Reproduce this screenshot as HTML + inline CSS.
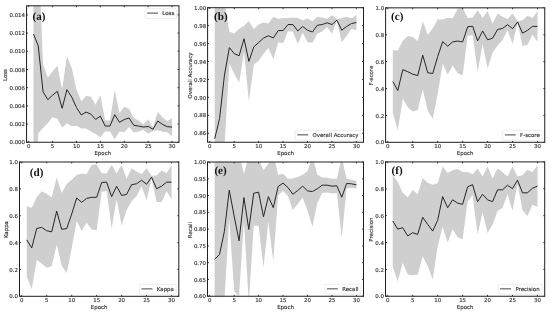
<!DOCTYPE html>
<html><head><meta charset="utf-8"><title>Training curves</title>
<style>html,body{margin:0;padding:0;background:#fff;}svg{display:block;filter:blur(0.35px);}text{text-rendering:geometricPrecision;}</style>
</head><body>
<svg width="550" height="314" viewBox="0 0 550 314">
<rect width="550" height="314" fill="#fff"/>
<clipPath id="clipa"><rect x="26.55" y="5.8" width="152.45" height="136.45"/></clipPath>
<g clip-path="url(#clipa)">
<polygon fill="#cfcfcf" points="33.48,-221.62 38.26,-52.42 43.04,64.02 47.82,77.66 52.6,71.3 57.37,65.84 62.15,89.22 66.93,56.01 71.71,67.93 76.49,89.4 81.27,101.31 86.05,95.68 90.83,96.86 95.61,104.86 100.39,95.31 105.16,120.6 109.94,120.6 114.72,90.22 119.5,113.23 124.28,106.77 129.06,108.87 133.84,118.05 138.62,120.6 143.4,124.33 148.18,119.14 152.95,127.42 157.73,111.96 162.51,117.14 167.29,121.24 172.07,117.96 172.07,136.16 167.29,132.15 162.51,131.7 157.73,130.15 152.95,131.06 148.18,133.7 143.4,129.79 138.62,131.52 133.84,132.61 129.06,127.06 124.28,132.24 119.5,131.42 114.72,139.34 109.94,131.52 105.16,131.52 100.39,137.16 95.61,133.97 90.83,131.42 86.05,128.42 81.27,128.6 76.49,125.79 71.71,126.15 66.93,123.33 62.15,127.42 57.37,118.69 52.6,117.23 47.82,122.97 43.04,128.06 38.26,133.15 33.48,278.7"/>
<polyline fill="none" stroke="#262626" stroke-width="1.0" stroke-linejoin="miter" points="33.48,34 38.26,45.83 43.04,91.76 47.82,99.68 52.6,95.13 57.37,91.31 62.15,108.32 66.93,89.67 71.71,97.04 76.49,107.59 81.27,114.96 86.05,112.05 90.83,114.14 95.61,119.42 100.39,116.23 105.16,126.06 109.94,126.06 114.72,114.78 119.5,122.33 124.28,119.51 129.06,117.96 133.84,125.33 138.62,126.06 143.4,127.06 148.18,126.42 152.95,129.24 157.73,121.05 162.51,124.42 167.29,126.69 172.07,127.06"/>
</g>
<path d="M28.7 142.25v-1.4M28.7 5.8v1.4M52.6 142.25v-1.4M52.6 5.8v1.4M76.49 142.25v-1.4M76.49 5.8v1.4M100.39 142.25v-1.4M100.39 5.8v1.4M124.28 142.25v-1.4M124.28 5.8v1.4M148.18 142.25v-1.4M148.18 5.8v1.4M172.07 142.25v-1.4M172.07 5.8v1.4M26.55 142.25h1.4M179 142.25h-1.4M26.55 124.06h1.4M179 124.06h-1.4M26.55 105.86h1.4M179 105.86h-1.4M26.55 87.67h1.4M179 87.67h-1.4M26.55 69.48h1.4M179 69.48h-1.4M26.55 51.28h1.4M179 51.28h-1.4M26.55 33.09h1.4M179 33.09h-1.4M26.55 14.9h1.4M179 14.9h-1.4" stroke="#1e1e1e" stroke-width="0.9" fill="none"/>
<rect x="26.55" y="5.8" width="152.45" height="136.45" fill="none" stroke="#1e1e1e" stroke-width="1.0"/>
<g font-family="'DejaVu Sans', 'Liberation Sans', sans-serif" font-size="5.45" fill="#383838" stroke="#383838" stroke-width="0.16">
<text x="28.7" y="148.05" text-anchor="middle">0</text>
<text x="52.6" y="148.05" text-anchor="middle">5</text>
<text x="76.49" y="148.05" text-anchor="middle">10</text>
<text x="100.39" y="148.05" text-anchor="middle">15</text>
<text x="124.28" y="148.05" text-anchor="middle">20</text>
<text x="148.18" y="148.05" text-anchor="middle">25</text>
<text x="172.07" y="148.05" text-anchor="middle">30</text>
<text x="25.05" y="144.4" text-anchor="end">0.000</text>
<text x="25.05" y="126.21" text-anchor="end">0.002</text>
<text x="25.05" y="108.01" text-anchor="end">0.004</text>
<text x="25.05" y="89.82" text-anchor="end">0.006</text>
<text x="25.05" y="71.63" text-anchor="end">0.008</text>
<text x="25.05" y="53.43" text-anchor="end">0.010</text>
<text x="25.05" y="35.24" text-anchor="end">0.012</text>
<text x="25.05" y="17.05" text-anchor="end">0.014</text>
<text x="102.78" y="154.65" text-anchor="middle">Epoch</text>
<text x="7" y="75" text-anchor="middle" transform="rotate(-90 7 75)">Loss</text>
<rect x="144.93" y="8.6" width="31.67" height="9.8" rx="1" fill="#fff" fill-opacity="0.8" stroke="#e0e0e0" stroke-width="0.6"/>
<path d="M147.11 13.1h10.9" stroke="#262626" stroke-width="0.85"/>
<text x="162.37" y="15">Loss</text>
</g>
<text x="32.5" y="19.8" font-family="'Liberation Serif', 'DejaVu Serif', serif" font-weight="bold" font-size="11.1" fill="#111">(a)</text>
<clipPath id="clipb"><rect x="207.6" y="7.7" width="155.9" height="134.55"/></clipPath>
<g clip-path="url(#clipb)">
<polygon fill="#cfcfcf" points="214.69,4.2 219.57,2.05 224.46,3.21 229.35,31.47 234.23,33.53 239.12,28.87 244.01,25.82 248.9,21.07 253.78,28.96 258.67,24.56 263.56,22.41 268.44,23.49 273.33,16.85 278.22,18.91 283.11,18.02 287.99,17.93 292.88,17.39 297.77,17.93 302.66,20.17 307.54,18.55 312.43,21.24 317.32,16.85 322.2,17.57 327.09,18.64 331.98,15.32 336.87,19.27 341.75,18.11 346.64,16.85 351.53,18.28 356.41,14.88 356.41,30.3 351.53,28.69 346.64,36.05 341.75,42.32 336.87,21.07 331.98,33.8 327.09,26.9 322.2,31.56 317.32,33.71 312.43,42.77 307.54,41.88 302.66,32.73 297.77,43.94 292.88,31.74 287.99,31.2 283.11,43.13 278.22,42.23 273.33,59.19 268.44,48.07 263.56,53.63 258.67,60.44 253.78,64.84 248.9,101.8 244.01,51.65 239.12,82.69 234.23,73.72 229.35,63.76 224.46,146.73 219.57,235.27 214.69,273.3"/>
<polyline fill="none" stroke="#262626" stroke-width="1.0" stroke-linejoin="miter" points="214.69,138.75 219.57,118.66 224.46,74.97 229.35,47.62 234.23,53.63 239.12,55.78 244.01,38.74 248.9,61.43 253.78,46.9 258.67,42.5 263.56,38.02 268.44,35.78 273.33,38.02 278.22,30.57 283.11,30.57 287.99,24.56 292.88,24.56 297.77,30.93 302.66,26.45 307.54,30.21 312.43,32.01 317.32,25.28 322.2,24.56 327.09,22.77 331.98,24.56 336.87,20.17 341.75,30.21 346.64,26.45 351.53,23.49 356.41,22.59"/>
</g>
<path d="M209.8 142.25v-1.4M209.8 7.7v1.4M234.23 142.25v-1.4M234.23 7.7v1.4M258.67 142.25v-1.4M258.67 7.7v1.4M283.11 142.25v-1.4M283.11 7.7v1.4M307.54 142.25v-1.4M307.54 7.7v1.4M331.98 142.25v-1.4M331.98 7.7v1.4M356.41 142.25v-1.4M356.41 7.7v1.4M207.6 133.28h1.4M363.5 133.28h-1.4M207.6 115.34h1.4M363.5 115.34h-1.4M207.6 97.4h1.4M363.5 97.4h-1.4M207.6 79.46h1.4M363.5 79.46h-1.4M207.6 61.52h1.4M363.5 61.52h-1.4M207.6 43.58h1.4M363.5 43.58h-1.4M207.6 25.64h1.4M363.5 25.64h-1.4M207.6 7.7h1.4M363.5 7.7h-1.4" stroke="#1e1e1e" stroke-width="0.9" fill="none"/>
<rect x="207.6" y="7.7" width="155.9" height="134.55" fill="none" stroke="#1e1e1e" stroke-width="1.0"/>
<g font-family="'DejaVu Sans', 'Liberation Sans', sans-serif" font-size="5.45" fill="#383838" stroke="#383838" stroke-width="0.16">
<text x="209.8" y="148.05" text-anchor="middle">0</text>
<text x="234.23" y="148.05" text-anchor="middle">5</text>
<text x="258.67" y="148.05" text-anchor="middle">10</text>
<text x="283.11" y="148.05" text-anchor="middle">15</text>
<text x="307.54" y="148.05" text-anchor="middle">20</text>
<text x="331.98" y="148.05" text-anchor="middle">25</text>
<text x="356.41" y="148.05" text-anchor="middle">30</text>
<text x="206.1" y="135.43" text-anchor="end">0.86</text>
<text x="206.1" y="117.49" text-anchor="end">0.88</text>
<text x="206.1" y="99.55" text-anchor="end">0.90</text>
<text x="206.1" y="81.61" text-anchor="end">0.92</text>
<text x="206.1" y="63.67" text-anchor="end">0.94</text>
<text x="206.1" y="45.73" text-anchor="end">0.96</text>
<text x="206.1" y="27.79" text-anchor="end">0.98</text>
<text x="206.1" y="9.85" text-anchor="end">1.00</text>
<text x="285.55" y="154.65" text-anchor="middle">Epoch</text>
<text x="192.1" y="75.6" text-anchor="middle" transform="rotate(-90 192.1 75.6)">Overall Accuracy</text>
<rect x="295.09" y="130.35" width="65.81" height="9.8" rx="1" fill="#fff" fill-opacity="0.8" stroke="#e0e0e0" stroke-width="0.6"/>
<path d="M297.27 134.85h10.9" stroke="#262626" stroke-width="0.85"/>
<text x="312.53" y="136.75">Overall Accuracy</text>
</g>
<text x="214.1" y="20.1" font-family="'Liberation Serif', 'DejaVu Serif', serif" font-weight="bold" font-size="11.1" fill="#111">(b)</text>
<clipPath id="clipc"><rect x="385.6" y="7.85" width="159.15" height="134.45"/></clipPath>
<g clip-path="url(#clipc)">
<polygon fill="#cfcfcf" points="392.83,49.93 397.82,50.61 402.81,40.66 407.8,36.08 412.79,37.03 417.78,41.06 422.77,21.16 427.76,34.74 432.75,28.29 437.74,19.28 442.72,19.41 447.71,17.8 452.7,18.2 457.69,8.79 462.68,8.12 467.67,17.93 472.66,17.4 477.65,10.14 482.64,17.93 487.63,11.21 492.61,23.58 497.6,13.5 502.59,16.86 507.58,19.01 512.57,13.5 517.56,20.89 522.55,20.22 527.54,15.78 532.53,17.93 537.52,11.21 537.52,41.6 532.53,34.87 527.54,44.82 522.55,46.03 517.56,23.04 512.57,43.88 507.58,30.3 502.59,39.98 497.6,45.5 492.61,52.62 487.63,68.49 482.64,44.02 477.65,71.71 472.66,35.14 467.67,35.68 462.68,75.61 457.69,73.33 452.7,65.53 447.71,74.54 442.72,63.78 437.74,93.49 432.75,118.64 427.76,110.84 422.77,89.19 417.78,109.9 412.79,111.51 407.8,107.34 402.81,98.74 397.82,130.47 392.83,113.12"/>
<polyline fill="none" stroke="#262626" stroke-width="1.0" stroke-linejoin="miter" points="392.83,81.53 397.82,90.54 402.81,69.7 407.8,71.71 412.79,74.27 417.78,75.48 422.77,55.18 427.76,72.79 432.75,73.46 437.74,56.39 442.72,41.6 447.71,46.17 452.7,41.87 457.69,41.06 462.68,41.87 467.67,26.81 472.66,26.27 477.65,40.92 482.64,30.98 487.63,39.85 492.61,38.1 497.6,29.5 502.59,28.42 507.58,24.66 512.57,28.69 517.56,21.97 522.55,33.13 527.54,30.3 532.53,26.4 537.52,26.4"/>
</g>
<path d="M387.85 142.3v-1.4M387.85 7.85v1.4M412.79 142.3v-1.4M412.79 7.85v1.4M437.74 142.3v-1.4M437.74 7.85v1.4M462.68 142.3v-1.4M462.68 7.85v1.4M487.63 142.3v-1.4M487.63 7.85v1.4M512.57 142.3v-1.4M512.57 7.85v1.4M537.52 142.3v-1.4M537.52 7.85v1.4M385.6 142.3h1.4M544.75 142.3h-1.4M385.6 115.41h1.4M544.75 115.41h-1.4M385.6 88.52h1.4M544.75 88.52h-1.4M385.6 61.63h1.4M544.75 61.63h-1.4M385.6 34.74h1.4M544.75 34.74h-1.4M385.6 7.85h1.4M544.75 7.85h-1.4" stroke="#1e1e1e" stroke-width="0.9" fill="none"/>
<rect x="385.6" y="7.85" width="159.15" height="134.45" fill="none" stroke="#1e1e1e" stroke-width="1.0"/>
<g font-family="'DejaVu Sans', 'Liberation Sans', sans-serif" font-size="5.45" fill="#383838" stroke="#383838" stroke-width="0.16">
<text x="387.85" y="148.1" text-anchor="middle">0</text>
<text x="412.79" y="148.1" text-anchor="middle">5</text>
<text x="437.74" y="148.1" text-anchor="middle">10</text>
<text x="462.68" y="148.1" text-anchor="middle">15</text>
<text x="487.63" y="148.1" text-anchor="middle">20</text>
<text x="512.57" y="148.1" text-anchor="middle">25</text>
<text x="537.52" y="148.1" text-anchor="middle">30</text>
<text x="384.1" y="144.45" text-anchor="end">0.0</text>
<text x="384.1" y="117.56" text-anchor="end">0.2</text>
<text x="384.1" y="90.67" text-anchor="end">0.4</text>
<text x="384.1" y="63.78" text-anchor="end">0.6</text>
<text x="384.1" y="36.89" text-anchor="end">0.8</text>
<text x="384.1" y="10" text-anchor="end">1.0</text>
<text x="465.18" y="154.7" text-anchor="middle">Epoch</text>
<text x="373.1" y="75.6" text-anchor="middle" transform="rotate(-90 373.1 75.6)">F-score</text>
<rect x="502.66" y="130.4" width="39.49" height="9.8" rx="1" fill="#fff" fill-opacity="0.8" stroke="#e0e0e0" stroke-width="0.6"/>
<path d="M504.84 134.9h10.9" stroke="#262626" stroke-width="0.85"/>
<text x="520.1" y="136.8">F-score</text>
</g>
<text x="391.1" y="19.7" font-family="'Liberation Serif', 'DejaVu Serif', serif" font-weight="bold" font-size="11.1" fill="#111">(c)</text>
<clipPath id="clipd"><rect x="19.5" y="162" width="159.3" height="134.3"/></clipPath>
<g clip-path="url(#clipd)">
<polygon fill="#cfcfcf" points="26.74,206.32 31.73,207.66 36.73,197.32 41.72,191.14 46.72,193.69 51.71,197.46 56.7,177.58 61.7,193.02 66.69,184.03 71.68,179.86 76.68,174.89 81.67,173.55 86.67,174.22 91.66,165.09 96.65,164.42 101.65,173.15 106.64,173.55 111.63,164.69 116.63,173.15 121.62,165.36 126.62,178.65 131.61,168.18 136.6,171.4 141.6,174.36 146.59,168.18 151.58,175.83 156.58,175.43 161.57,170.46 166.57,173.15 171.56,165.36 171.56,198.93 166.57,191.14 161.57,201.89 156.58,202.02 151.58,178.52 146.59,200.41 141.6,186.17 136.6,196.11 131.61,201.22 126.62,210.08 121.62,225.52 116.63,199.2 111.63,228.61 106.64,190.74 101.65,191.95 96.65,230.22 91.66,229.55 86.67,222.57 81.67,231.03 76.68,221.09 71.68,248.35 66.69,273.2 61.7,265.55 56.7,244.73 51.71,266.22 46.72,267.83 41.72,263.67 36.73,259.64 31.73,289.05 26.74,276.56"/>
<polyline fill="none" stroke="#262626" stroke-width="1.0" stroke-linejoin="miter" points="26.74,239.89 31.73,247.95 36.73,228.48 41.72,227.4 46.72,230.76 51.71,231.84 56.7,211.15 61.7,229.28 66.69,228.61 71.68,214.11 76.68,197.99 81.67,202.29 86.67,198.4 91.66,197.32 96.65,197.32 101.65,182.55 106.64,182.15 111.63,196.65 116.63,186.17 121.62,195.44 126.62,194.37 131.61,184.7 136.6,183.76 141.6,180.26 146.59,184.29 151.58,177.18 156.58,188.73 161.57,186.17 166.57,182.15 171.56,182.15"/>
</g>
<path d="M21.75 296.3v-1.4M21.75 162v1.4M46.72 296.3v-1.4M46.72 162v1.4M71.68 296.3v-1.4M71.68 162v1.4M96.65 296.3v-1.4M96.65 162v1.4M121.62 296.3v-1.4M121.62 162v1.4M146.59 296.3v-1.4M146.59 162v1.4M171.56 296.3v-1.4M171.56 162v1.4M19.5 296.3h1.4M178.8 296.3h-1.4M19.5 269.44h1.4M178.8 269.44h-1.4M19.5 242.58h1.4M178.8 242.58h-1.4M19.5 215.72h1.4M178.8 215.72h-1.4M19.5 188.86h1.4M178.8 188.86h-1.4M19.5 162h1.4M178.8 162h-1.4" stroke="#1e1e1e" stroke-width="0.9" fill="none"/>
<rect x="19.5" y="162" width="159.3" height="134.3" fill="none" stroke="#1e1e1e" stroke-width="1.0"/>
<g font-family="'DejaVu Sans', 'Liberation Sans', sans-serif" font-size="5.45" fill="#383838" stroke="#383838" stroke-width="0.16">
<text x="21.75" y="302.1" text-anchor="middle">0</text>
<text x="46.72" y="302.1" text-anchor="middle">5</text>
<text x="71.68" y="302.1" text-anchor="middle">10</text>
<text x="96.65" y="302.1" text-anchor="middle">15</text>
<text x="121.62" y="302.1" text-anchor="middle">20</text>
<text x="146.59" y="302.1" text-anchor="middle">25</text>
<text x="171.56" y="302.1" text-anchor="middle">30</text>
<text x="18" y="298.45" text-anchor="end">0.0</text>
<text x="18" y="271.59" text-anchor="end">0.2</text>
<text x="18" y="244.73" text-anchor="end">0.4</text>
<text x="18" y="217.87" text-anchor="end">0.6</text>
<text x="18" y="191.01" text-anchor="end">0.8</text>
<text x="18" y="164.15" text-anchor="end">1.0</text>
<text x="99.15" y="308.7" text-anchor="middle">Epoch</text>
<text x="7.6" y="229.6" text-anchor="middle" transform="rotate(-90 7.6 229.6)">Kappa</text>
<rect x="139.4" y="284.4" width="36.8" height="9.8" rx="1" fill="#fff" fill-opacity="0.8" stroke="#e0e0e0" stroke-width="0.6"/>
<path d="M141.58 288.9h10.9" stroke="#262626" stroke-width="0.85"/>
<text x="156.84" y="290.8">Kappa</text>
</g>
<text x="29.8" y="175.7" font-family="'Liberation Serif', 'DejaVu Serif', serif" font-weight="bold" font-size="11.1" fill="#111">(d)</text>
<clipPath id="clipe"><rect x="207.5" y="162" width="156" height="134.25"/></clipPath>
<g clip-path="url(#clipe)">
<polygon fill="#cfcfcf" points="214.59,158.64 219.48,157.3 224.37,147.57 229.26,161.66 234.15,151.93 239.04,151.93 243.93,174.08 248.82,155.62 253.71,160.66 258.6,158.64 263.49,170.06 268.38,163.68 273.27,153.94 278.16,174.75 283.05,173.75 287.95,178.78 292.84,178.45 297.73,177.1 302.62,174.75 307.51,171.06 312.4,156.29 317.29,174.42 322.18,177.44 327.07,177.77 331.96,178.78 336.85,178.78 341.74,156.97 346.63,178.78 351.52,179.79 356.41,180.79 356.41,188.85 351.52,187.84 346.63,188.18 341.74,237.52 336.85,192.88 331.96,193.55 327.07,192.54 322.18,192.88 317.29,203.28 312.4,226.78 307.51,210.67 302.62,197.58 297.73,203.95 292.84,209.99 287.95,196.23 283.05,190.86 278.16,195.23 273.27,261.35 268.38,221.74 263.49,267.39 258.6,225.77 253.71,225.77 248.82,303.3 243.93,221.07 239.04,296.25 234.15,291.22 229.26,218.72 224.37,301.28 219.48,351.96 214.59,360.02"/>
<polyline fill="none" stroke="#262626" stroke-width="1.0" stroke-linejoin="miter" points="214.59,259.33 219.48,254.63 224.37,231.47 229.26,190.19 234.15,216.04 239.04,240.87 243.93,197.58 248.82,229.46 253.71,193.21 258.6,192.21 263.49,216.71 268.38,196.57 273.27,207.64 278.16,186.5 283.05,183.14 287.95,187.51 292.84,194.22 297.73,190.53 302.62,186.16 307.51,190.86 312.4,191.53 317.29,188.85 322.18,185.16 327.07,185.16 331.96,186.16 336.85,185.83 341.74,197.24 346.63,183.48 351.52,183.82 356.41,184.82"/>
</g>
<path d="M209.7 296.25v-1.4M209.7 162v1.4M234.15 296.25v-1.4M234.15 162v1.4M258.6 296.25v-1.4M258.6 162v1.4M283.05 296.25v-1.4M283.05 162v1.4M307.51 296.25v-1.4M307.51 162v1.4M331.96 296.25v-1.4M331.96 162v1.4M356.41 296.25v-1.4M356.41 162v1.4M207.5 296.25h1.4M363.5 296.25h-1.4M207.5 279.47h1.4M363.5 279.47h-1.4M207.5 262.69h1.4M363.5 262.69h-1.4M207.5 245.91h1.4M363.5 245.91h-1.4M207.5 229.12h1.4M363.5 229.12h-1.4M207.5 212.34h1.4M363.5 212.34h-1.4M207.5 195.56h1.4M363.5 195.56h-1.4M207.5 178.78h1.4M363.5 178.78h-1.4M207.5 162h1.4M363.5 162h-1.4" stroke="#1e1e1e" stroke-width="0.9" fill="none"/>
<rect x="207.5" y="162" width="156" height="134.25" fill="none" stroke="#1e1e1e" stroke-width="1.0"/>
<g font-family="'DejaVu Sans', 'Liberation Sans', sans-serif" font-size="5.45" fill="#383838" stroke="#383838" stroke-width="0.16">
<text x="209.7" y="302.05" text-anchor="middle">0</text>
<text x="234.15" y="302.05" text-anchor="middle">5</text>
<text x="258.6" y="302.05" text-anchor="middle">10</text>
<text x="283.05" y="302.05" text-anchor="middle">15</text>
<text x="307.51" y="302.05" text-anchor="middle">20</text>
<text x="331.96" y="302.05" text-anchor="middle">25</text>
<text x="356.41" y="302.05" text-anchor="middle">30</text>
<text x="206" y="298.4" text-anchor="end">0.60</text>
<text x="206" y="281.62" text-anchor="end">0.65</text>
<text x="206" y="264.84" text-anchor="end">0.70</text>
<text x="206" y="248.06" text-anchor="end">0.75</text>
<text x="206" y="231.28" text-anchor="end">0.80</text>
<text x="206" y="214.49" text-anchor="end">0.85</text>
<text x="206" y="197.71" text-anchor="end">0.90</text>
<text x="206" y="180.93" text-anchor="end">0.95</text>
<text x="206" y="164.15" text-anchor="end">1.00</text>
<text x="285.5" y="308.65" text-anchor="middle">Epoch</text>
<text x="192.1" y="230" text-anchor="middle" transform="rotate(-90 192.1 230)">Recall</text>
<rect x="324.77" y="284.35" width="36.13" height="9.8" rx="1" fill="#fff" fill-opacity="0.8" stroke="#e0e0e0" stroke-width="0.6"/>
<path d="M326.95 288.85h10.9" stroke="#262626" stroke-width="0.85"/>
<text x="342.21" y="290.75">Recall</text>
</g>
<text x="214.4" y="174" font-family="'Liberation Serif', 'DejaVu Serif', serif" font-weight="bold" font-size="11.1" fill="#111">(e)</text>
<clipPath id="clipf"><rect x="385.5" y="161.9" width="159.2" height="134.35"/></clipPath>
<g clip-path="url(#clipf)">
<polygon fill="#cfcfcf" points="392.74,175.34 397.73,182.05 402.72,192.8 407.71,197.23 412.7,190.11 417.69,194.14 422.68,177.89 427.67,182.72 432.66,184.74 437.65,183.13 442.64,166.47 447.63,173.05 452.62,170.36 457.61,169.02 462.6,171.98 467.6,171.98 472.59,174.26 477.58,168.62 482.57,176.41 487.56,166.47 492.55,178.56 497.54,168.62 502.53,171.98 507.52,176.41 512.51,166.47 517.5,176.41 522.49,175.34 527.48,169.69 532.47,171.98 537.46,165.26 537.46,206.91 532.47,204.49 527.48,215.91 522.49,210.27 517.5,183.93 512.51,210.8 507.52,194.14 502.53,207.71 497.54,211.07 492.55,224.78 487.56,233.11 482.57,212.15 477.58,234.72 472.59,194.95 467.6,201.8 462.6,239.15 457.61,237.27 452.62,229.21 447.63,242.38 442.64,226.66 437.65,246.54 432.66,279.46 427.67,266.02 422.68,256.62 417.69,274.75 412.7,275.29 407.71,274.62 402.72,262.66 397.73,281.47 392.74,266.69"/>
<polyline fill="none" stroke="#262626" stroke-width="1.0" stroke-linejoin="miter" points="392.74,221.01 397.73,229.07 402.72,227.73 407.71,235.93 412.7,232.7 417.69,234.45 422.68,217.25 427.67,224.37 432.66,231.09 437.65,220.34 442.64,196.56 447.63,207.71 452.62,199.79 457.61,203.15 462.6,204.35 467.6,186.89 472.59,184.61 477.58,201.67 482.57,194.28 487.56,199.79 492.55,201.67 497.54,189.84 502.53,189.84 507.52,185.28 512.51,188.64 517.5,180.17 522.49,192.8 527.48,192.8 532.47,188.23 537.46,186.08"/>
</g>
<path d="M387.75 296.25v-1.4M387.75 161.9v1.4M412.7 296.25v-1.4M412.7 161.9v1.4M437.65 296.25v-1.4M437.65 161.9v1.4M462.6 296.25v-1.4M462.6 161.9v1.4M487.56 296.25v-1.4M487.56 161.9v1.4M512.51 296.25v-1.4M512.51 161.9v1.4M537.46 296.25v-1.4M537.46 161.9v1.4M385.5 296.25h1.4M544.7 296.25h-1.4M385.5 269.38h1.4M544.7 269.38h-1.4M385.5 242.51h1.4M544.7 242.51h-1.4M385.5 215.64h1.4M544.7 215.64h-1.4M385.5 188.77h1.4M544.7 188.77h-1.4M385.5 161.9h1.4M544.7 161.9h-1.4" stroke="#1e1e1e" stroke-width="0.9" fill="none"/>
<rect x="385.5" y="161.9" width="159.2" height="134.35" fill="none" stroke="#1e1e1e" stroke-width="1.0"/>
<g font-family="'DejaVu Sans', 'Liberation Sans', sans-serif" font-size="5.45" fill="#383838" stroke="#383838" stroke-width="0.16">
<text x="387.75" y="302.05" text-anchor="middle">0</text>
<text x="412.7" y="302.05" text-anchor="middle">5</text>
<text x="437.65" y="302.05" text-anchor="middle">10</text>
<text x="462.6" y="302.05" text-anchor="middle">15</text>
<text x="487.56" y="302.05" text-anchor="middle">20</text>
<text x="512.51" y="302.05" text-anchor="middle">25</text>
<text x="537.46" y="302.05" text-anchor="middle">30</text>
<text x="384" y="298.4" text-anchor="end">0.0</text>
<text x="384" y="271.53" text-anchor="end">0.2</text>
<text x="384" y="244.66" text-anchor="end">0.4</text>
<text x="384" y="217.79" text-anchor="end">0.6</text>
<text x="384" y="190.92" text-anchor="end">0.8</text>
<text x="384" y="164.05" text-anchor="end">1.0</text>
<text x="465.1" y="308.65" text-anchor="middle">Epoch</text>
<text x="373.1" y="229.6" text-anchor="middle" transform="rotate(-90 373.1 229.6)">Precision</text>
<rect x="497.94" y="284.35" width="44.16" height="9.8" rx="1" fill="#fff" fill-opacity="0.8" stroke="#e0e0e0" stroke-width="0.6"/>
<path d="M500.12 288.85h10.9" stroke="#262626" stroke-width="0.85"/>
<text x="515.38" y="290.75">Precision</text>
</g>
<text x="391.5" y="173.7" font-family="'Liberation Serif', 'DejaVu Serif', serif" font-weight="bold" font-size="11.1" fill="#111">(f)</text>
</svg>
</body></html>
